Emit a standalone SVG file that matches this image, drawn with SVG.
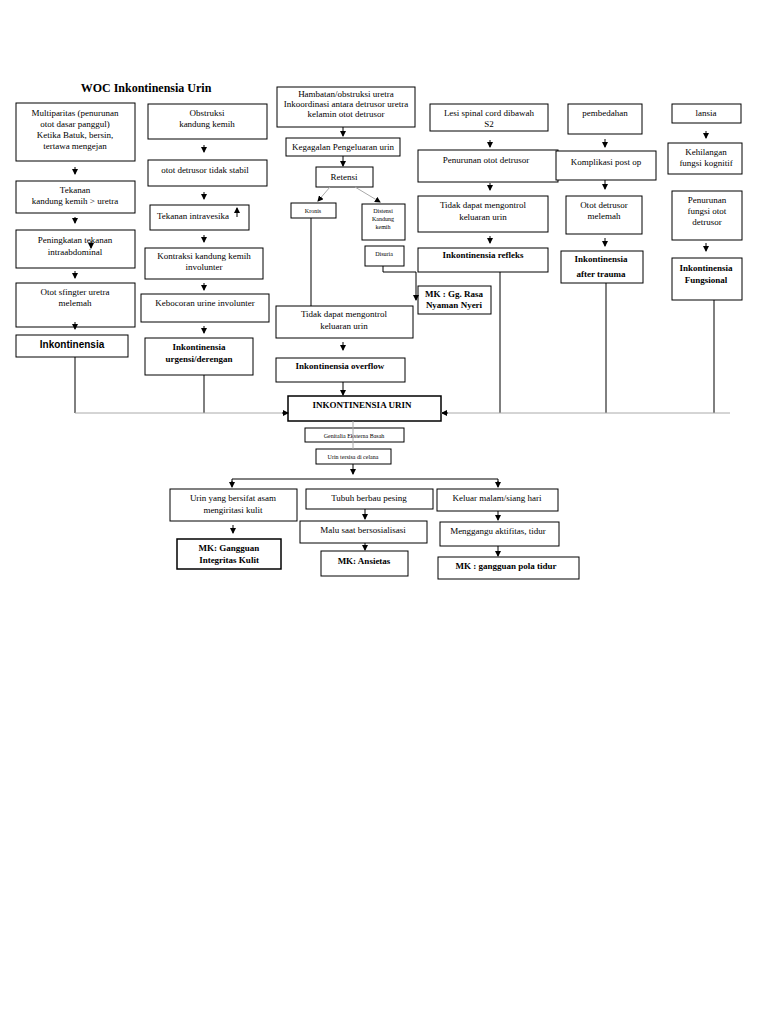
<svg xmlns="http://www.w3.org/2000/svg" width="768" height="1024" viewBox="0 0 768 1024">
<style>
rect{fill:#fff;stroke:#000;stroke-width:1}
text{font-family:"Liberation Serif",serif;font-size:9px;text-anchor:middle;fill:#000}
.b{font-weight:bold}
.s{font-size:6px}
.c line,.c path{stroke:#000;stroke-width:1;fill:none}
.c .g{stroke:#aaa}
</style>
<defs><marker id="a" markerWidth="6" markerHeight="6" refX="5" refY="3" orient="auto" markerUnits="userSpaceOnUse"><path d="M0,0L6,3L0,6z" fill="#000"/></marker></defs>
<text x="146" y="92" class="b" style="font-size:12px">WOC Inkontinensia Urin</text>
<g id="n1"><rect x="16" y="103" width="119" height="58"/><text x="75" y="116">Multiparitas (penurunan</text><text x="75" y="127">otot dasar panggul)</text><text x="75" y="138">Ketika Batuk, bersin,</text><text x="75" y="149">tertawa mengejan</text></g>
<g id="n2"><rect x="16" y="181" width="119" height="32"/><text x="75" y="193">Tekanan</text><text x="75" y="204">kandung kemih  &gt; uretra</text></g>
<g id="n3"><rect x="16" y="230" width="119" height="38"/><text x="75" y="243">Peningkatan tekanan</text><text x="75" y="255">intraabdominal</text></g>
<g id="n4"><rect x="16" y="283" width="119" height="44"/><text x="75" y="295">Otot sfingter uretra</text><text x="75" y="306">melemah</text></g>
<g id="n5"><rect x="16" y="335" width="112" height="22"/><text x="72" y="348" class="b" style="font-family:'Liberation Sans',sans-serif;font-size:10px">Inkontinensia</text></g>
<g id="n6"><rect x="148" y="104" width="119" height="35"/><text x="207" y="116">Obstruksi</text><text x="207" y="127">kandung kemih</text></g>
<g id="n7"><rect x="148" y="160" width="119" height="26"/><text x="205" y="173">otot detrusor  tidak stabil</text></g>
<g id="n8"><rect x="150" y="205" width="99" height="25"/><text x="193" y="219">Tekanan intravesika</text></g>
<g id="n9"><rect x="145" y="248" width="118" height="31"/><text x="204" y="259">Kontraksi kandung kemih</text><text x="204" y="270">involunter</text></g>
<g id="n10"><rect x="141" y="294" width="128" height="28"/><text x="205" y="306">Kebocoran urine involunter</text></g>
<g id="n11"><rect x="145" y="338" width="108" height="37"/><text x="199" y="350" class="b">Inkontinensia</text><text x="199" y="362" class="b">urgensi/derengan</text></g>
<g id="n12"><rect x="277" y="87" width="138" height="40"/><text x="346" y="97">Hambatan/obstruksi uretra</text><text x="346" y="107">Inkoordinasi antara detrusor uretra</text><text x="346" y="117">kelamin otot detrusor</text></g>
<g id="n13"><rect x="286" y="138" width="114" height="18"/><text x="343" y="150">Kegagalan Pengeluaran urin</text></g>
<g id="n14"><rect x="316" y="167" width="57" height="20"/><text x="344" y="180">Retensi</text></g>
<g id="n15"><rect x="291" y="203" width="45" height="15"/><text x="313" y="213" class="s">Kronis</text></g>
<g id="n16"><rect x="362" y="204" width="43" height="36"/><text x="383" y="213" class="s">Distensi</text><text x="383" y="221" class="s">Kandung</text><text x="383" y="229" class="s">kemih</text></g>
<g id="n17"><rect x="365" y="246" width="39" height="20"/><text x="384" y="256" class="s">Disuria</text></g>
<g id="n18"><rect x="418" y="286" width="73" height="28"/><text x="454" y="297" class="b">MK : Gg. Rasa</text><text x="454" y="308" class="b">Nyaman Nyeri</text></g>
<g id="n19"><rect x="276" y="306" width="137" height="32"/><text x="344" y="317">Tidak dapat mengontrol</text><text x="344" y="329">keluaran urin</text></g>
<g id="n20"><rect x="276" y="358" width="129" height="24"/><text x="340" y="369" class="b">Inkontinensia overflow</text></g>
<g id="n21"><rect x="430" y="104" width="118" height="27"/><text x="489" y="116">Lesi spinal cord dibawah</text><text x="489" y="127">S2</text></g>
<g id="n22"><rect x="418" y="150" width="140" height="32"/><text x="486" y="163">Penurunan otot detrusor</text></g>
<g id="n23"><rect x="418" y="196" width="130" height="36"/><text x="483" y="208">Tidak dapat mengontrol</text><text x="483" y="220">keluaran urin</text></g>
<g id="n24"><rect x="418" y="248" width="130" height="24"/><text x="483" y="258" class="b">Inkontinensia refleks</text></g>
<g id="n25"><rect x="568" y="104" width="74" height="30"/><text x="605" y="116">pembedahan</text></g>
<g id="n26"><rect x="556" y="151" width="100" height="29"/><text x="606" y="165">Komplikasi post op</text></g>
<g id="n27"><rect x="566" y="196" width="76" height="38"/><text x="604" y="208">Otot detrusor</text><text x="604" y="219">melemah</text></g>
<g id="n28"><rect x="561" y="251" width="82" height="32"/><text x="601" y="262" class="b">Inkontinensia</text><text x="601" y="277" class="b">after trauma</text></g>
<g id="n29"><rect x="672" y="104" width="69" height="19"/><text x="706" y="116">lansia</text></g>
<g id="n30"><rect x="668" y="143" width="74" height="31"/><text x="706" y="155">Kehilangan</text><text x="706" y="166">fungsi kognitif</text></g>
<g id="n31"><rect x="672" y="191" width="70" height="49"/><text x="707" y="203">Penurunan</text><text x="707" y="214">fungsi otot</text><text x="707" y="225">detrusor</text></g>
<g id="n32"><rect x="672" y="258" width="70" height="42"/><text x="706" y="271" class="b">Inkontinensia</text><text x="706" y="283" class="b">Fungsional</text></g>
<g id="n33"><rect x="288" y="396" width="153" height="25" style="stroke-width:1.5"/><text x="362" y="408" class="b">INKONTINENSIA URIN</text></g>
<g id="n34"><rect x="305" y="428" width="99" height="14"/><text x="354" y="438" class="s">Genitalia Eksterna Basah</text></g>
<g id="n35"><rect x="316" y="449" width="75" height="15"/><text x="353" y="459" class="s">Urin tersisa di celana</text></g>
<g id="n36"><rect x="170" y="489" width="127" height="32"/><text x="233" y="501">Urin yang bersifat asam</text><text x="233" y="513">mengiritasi kulit</text></g>
<g id="n37"><rect x="177" y="539" width="104" height="30" style="stroke-width:1.5"/><text x="229" y="551" class="b">MK: Gangguan</text><text x="229" y="563" class="b">Integritas Kulit</text></g>
<g id="n38"><rect x="306" y="489" width="127" height="20"/><text x="369" y="501">Tubuh berbau pesing</text></g>
<g id="n39"><rect x="300" y="521" width="127" height="22"/><text x="363" y="533">Malu saat bersosialisasi</text></g>
<g id="n40"><rect x="321" y="551" width="87" height="25"/><text x="364" y="564" class="b">MK: Ansietas</text></g>
<g id="n41"><rect x="437" y="489" width="121" height="22"/><text x="497" y="501">Keluar malam/siang hari</text></g>
<g id="n42"><rect x="440" y="522" width="119" height="24"/><text x="498" y="534">Menggangu aktifitas, tidur</text></g>
<g id="n43"><rect x="438" y="557" width="141" height="22"/><text x="506" y="569" class="b">MK : gangguan pola tidur</text></g>
<g class="c" id="connectors">
<line x1="75" y1="167" x2="75" y2="174" marker-end="url(#a)"/>
<line x1="75" y1="217" x2="75" y2="223" marker-end="url(#a)"/>
<line x1="91" y1="241" x2="91" y2="248" marker-end="url(#a)"/>
<line x1="75" y1="271" x2="75" y2="278" marker-end="url(#a)"/>
<line x1="75" y1="322" x2="75" y2="329" marker-end="url(#a)"/>
<line x1="204" y1="145" x2="204" y2="152" marker-end="url(#a)"/>
<line x1="204" y1="192" x2="204" y2="199" marker-end="url(#a)"/>
<line x1="237" y1="217" x2="237" y2="208" marker-end="url(#a)"/>
<line x1="204" y1="235" x2="204" y2="242" marker-end="url(#a)"/>
<line x1="204" y1="283" x2="204" y2="290" marker-end="url(#a)"/>
<line x1="204" y1="326" x2="204" y2="333" marker-end="url(#a)"/>
<line x1="343" y1="127" x2="343" y2="136" marker-end="url(#a)"/>
<line x1="343" y1="156" x2="343" y2="166" marker-end="url(#a)"/>
<path class="g" d="M330,187L318,201" marker-end="url(#a)"/>
<path class="g" d="M355,187L380,202" marker-end="url(#a)"/>
<line x1="311" y1="218" x2="311" y2="306"/>
<path d="M383,266V272H416V300" marker-end="url(#a)"/>
<line x1="343" y1="342" x2="343" y2="350" marker-end="url(#a)"/>
<line x1="343" y1="382" x2="343" y2="395" marker-end="url(#a)"/>
<line x1="490" y1="140" x2="490" y2="147" marker-end="url(#a)"/>
<line x1="490" y1="183" x2="490" y2="190" marker-end="url(#a)"/>
<line x1="490" y1="236" x2="490" y2="243" marker-end="url(#a)"/>
<line x1="605" y1="139" x2="605" y2="147" marker-end="url(#a)"/>
<line x1="605" y1="180" x2="605" y2="189" marker-end="url(#a)"/>
<line x1="605" y1="238" x2="605" y2="246" marker-end="url(#a)"/>
<line x1="706" y1="131" x2="706" y2="138" marker-end="url(#a)"/>
<line x1="706" y1="243" x2="706" y2="251" marker-end="url(#a)"/>
<line x1="75" y1="357" x2="75" y2="413"/>
<line x1="204" y1="375" x2="204" y2="413"/>
<line x1="500" y1="272" x2="500" y2="413"/>
<line x1="606" y1="283" x2="606" y2="413"/>
<line x1="714" y1="300" x2="714" y2="413"/>
<line class="g" x1="75" y1="413" x2="286" y2="413"/>
<line class="g" x1="441" y1="413" x2="730" y2="413"/>
<line x1="282" y1="413" x2="288" y2="413" marker-end="url(#a)"/>
<line x1="448" y1="413" x2="442" y2="413" marker-end="url(#a)"/>
<line class="g" x1="353" y1="421" x2="353" y2="449"/>
<line x1="353" y1="464" x2="353" y2="474" marker-end="url(#a)"/>
<path d="M232,486V479H498V486"/>
<line x1="232" y1="481" x2="232" y2="487" marker-end="url(#a)"/>
<line x1="498" y1="481" x2="498" y2="487" marker-end="url(#a)"/>
<line x1="233" y1="525" x2="233" y2="533" marker-end="url(#a)"/>
<line x1="365" y1="509" x2="365" y2="519" marker-end="url(#a)"/>
<line x1="365" y1="543" x2="365" y2="550" marker-end="url(#a)"/>
<line x1="498" y1="511" x2="498" y2="520" marker-end="url(#a)"/>
<line x1="498" y1="546" x2="498" y2="556" marker-end="url(#a)"/>
</g>
</svg>
